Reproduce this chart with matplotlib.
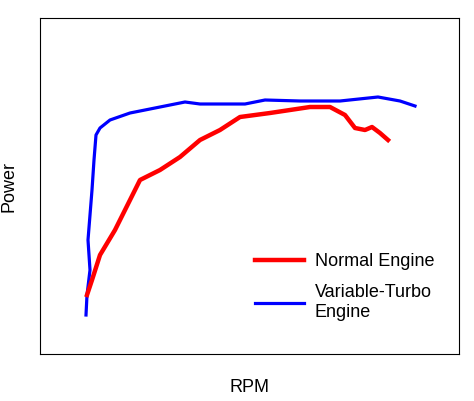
import matplotlib.pyplot as plt

plt.rcParams['font.family'] = ['Liberation Sans', 'DejaVu Sans']

# Data (arbitrary units, no ticks shown)
blue_x = [86, 87, 90, 88, 90, 92, 94, 96, 100, 110, 130, 150, 185, 200, 245, 265, 300, 340, 378, 400, 415]
blue_y = [39, 59, 84, 114, 139, 164, 194, 219, 226, 234, 241, 245, 252, 250, 250, 254, 253, 253, 257, 253, 248]
red_x = [87, 92, 100, 115, 130, 140, 160, 180, 200, 220, 240, 270, 310, 330, 345, 355, 365, 372, 380, 388]
red_y = [59, 74, 99, 124, 154, 174, 184, 197, 214, 224, 237, 241, 247, 247, 239, 226, 224, 227, 221, 214]

fig = plt.figure(figsize=(4.74, 4.01), dpi=100)
ax = fig.add_axes([40 / 474, 47 / 401, 419 / 474, 336 / 401])

ax.plot(blue_x, blue_y, color='#0000ff', lw=2.3, label='Variable-Turbo\nEngine', zorder=2)
ax.plot(red_x, red_y, color='#ff0000', lw=3.2, label='Normal Engine', zorder=3)

ax.set_xlim(40, 459)
ax.set_ylim(0, 336)
ax.set_xticks([])
ax.set_yticks([])
for s in ax.spines.values():
    s.set_linewidth(0.8)

ax.set_xlabel('RPM', fontsize=13, labelpad=18)
ax.set_ylabel('Power', fontsize=13, labelpad=16)

h, l = ax.get_legend_handles_labels()
ax.legend(h[::-1], l[::-1], loc='lower right', bbox_to_anchor=(0.98, 0.05),
          frameon=False, fontsize=13, handlelength=2.7, handletextpad=0.6,
          labelspacing=0.8)

fig.savefig('out.png', dpi=100)
